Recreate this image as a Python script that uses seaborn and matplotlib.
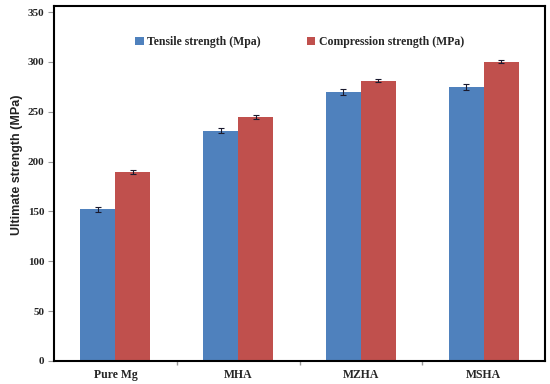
import matplotlib
matplotlib.use("Agg")
import matplotlib.pyplot as plt
import seaborn as sns
import pandas as pd
import numpy as np

categories = ["Pure Mg", "MHA", "MZHA", "MSHA"]
tensile = [152, 231, 270, 275]
compression = [190, 245, 281, 300]
tensile_err = [2.5, 2.5, 3.0, 3.0]
compression_err = [2.0, 2.0, 1.5, 1.5]
series_names = ["Tensile strength (Mpa)", "Compression strength (MPa)"]
yticks = [0, 50, 100, 150, 200, 250, 300, 350]

sns.set_theme(style="white")
plt.rcParams['font.family'] = ['Liberation Serif', 'DejaVu Serif']

df = pd.DataFrame({
    "cat": categories * 2,
    "val": tensile + compression,
    "series": [series_names[0]] * 4 + [series_names[1]] * 4,
})

fig = plt.figure(figsize=(5.5, 3.84), dpi=100)
ax = fig.add_axes([54 / 550, 23 / 384, (545 - 54) / 550, (361 - 6) / 384])

palette = {series_names[0]: "#4F81BD", series_names[1]: "#C0504D"}
sns.barplot(data=df, x="cat", y="val", hue="series", palette=palette,
            width=0.57, errorbar=None, ax=ax, saturation=1, legend=False,
            linewidth=0, edgecolor="none")

# error bars from bar patches
patches = [p for p in ax.patches if p.get_height() > 0]
patches = sorted(patches, key=lambda p: p.get_x())
errs = []
for i in range(4):
    errs += [tensile_err[i], compression_err[i]]
for p, e in zip(patches, errs):
    cx = p.get_x() + p.get_width() / 2
    ax.errorbar(cx, p.get_height(), yerr=e, fmt="none", ecolor="#1a1a2e",
                elinewidth=0.8, capsize=2, capthick=0.8)

ymax = 350 * (361 - 6) / (361 - 12)
ax.set_ylim(0, ymax)
ax.set_xlim(-0.5, 3.5)
ax.set_yticks(yticks)
ax.set_yticklabels([str(t) for t in yticks], fontsize=8, fontweight="bold")
ax.set_xticks(range(4))
ax.set_xticklabels(categories, fontsize=8.5, fontweight="bold")
ax.set_xlabel("")
ax.set_ylabel("Ultimate strength (MPa)", fontsize=9, fontweight="bold",
              family=["Liberation Sans", "DejaVu Sans"], color="#222222")
ax.yaxis.set_label_coords(-0.063, 1 - (165 - 6) / 355)
ax.tick_params(axis="y", length=4, width=0.8, color="#999999", left=True, pad=3)
ax.tick_params(axis="x", length=0, pad=6)
ax.set_xticks([0.5, 1.5, 2.5], minor=True)
ax.tick_params(axis="x", which="minor", length=3, color="#999999", bottom=True)

for s in ax.spines.values():
    s.set_color("black")
    s.set_linewidth(1.5)

from matplotlib.patches import Patch
handles = [Patch(facecolor=palette[n], edgecolor="none") for n in series_names]
leg = ax.legend(handles, series_names, loc="upper center", ncol=2,
                bbox_to_anchor=(0.5, 0.945), frameon=False,
                prop={"family": "Liberation Serif", "weight": "bold", "size": 8.5},
                handlelength=0.7, handleheight=0.7, handletextpad=0.3,
                columnspacing=3.9)

fig.savefig("out.png", dpi=100, facecolor="white")
